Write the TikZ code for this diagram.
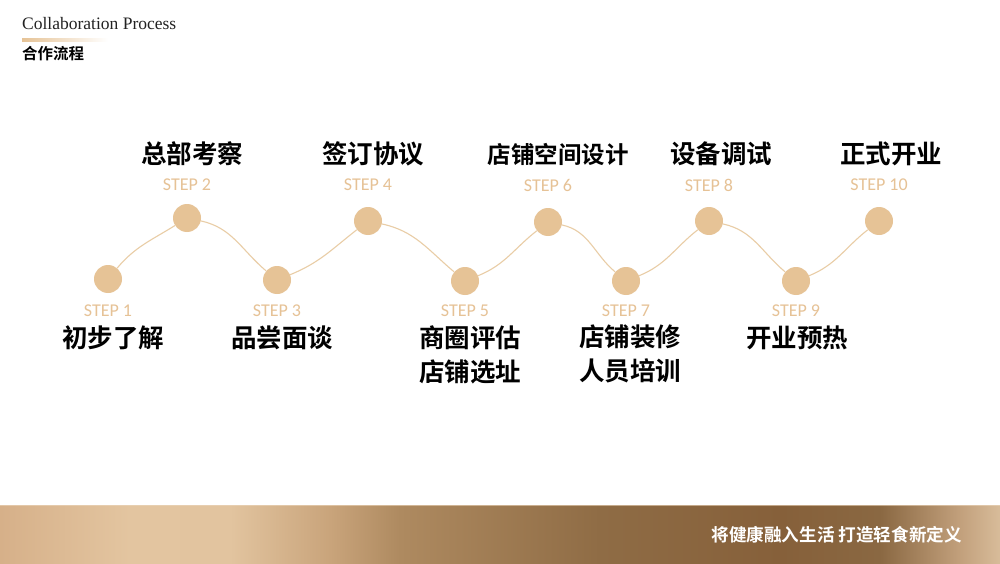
\documentclass[tikz,border=0pt]{standalone}
\usepackage{fontspec}
\setmainfont{Liberation Serif}
\newfontfamily\cjk{Noto Sans CJK SC}[BoldFont={Noto Sans CJK SC Bold}]
\newfontfamily\stepfont{Carlito}
\definecolor{gold}{HTML}{E6C396}
\definecolor{goldline}{HTML}{E9CDA6}
\definecolor{steptxt}{HTML}{E6C296}
\definecolor{headtxt}{HTML}{222222}
\definecolor{b0}{HTML}{D6B089}
\definecolor{b1}{HTML}{E3C5A0}
\definecolor{b2}{HTML}{E2C49F}
\definecolor{b3}{HTML}{C9A47B}
\definecolor{b4}{HTML}{AE8A60}
\definecolor{b5}{HTML}{8F6C45}
\definecolor{b6}{HTML}{86603A}
\definecolor{b7}{HTML}{8A6842}
\definecolor{b8}{HTML}{C2A07C}
\definecolor{b9}{HTML}{D8BC9A}
\pgfdeclarehorizontalshading{bandshade}{100bp}{%
  color(0bp)=(b0); color(25bp)=(b0); color(31.5bp)=(b1); color(36.5bp)=(b2);
  color(41.5bp)=(b3); color(45bp)=(b4); color(55bp)=(b5); color(64bp)=(b6);
  color(69bp)=(b7); color(73bp)=(b8); color(75bp)=(b9); color(100bp)=(b9)}
\begin{document}
\begin{tikzpicture}[x=1pt,y=-1pt,
  dot/.style={circle,fill=gold,minimum size=28pt,inner sep=0pt},
  wave/.style={draw=goldline,line width=1.1pt},
  steplbl/.style={font=\stepfont\fontsize{18}{18}\selectfont,text=steptxt,inner sep=0pt},
  title/.style={font=\cjk\bfseries\fontsize{25.5}{34}\selectfont,text=black,inner sep=0pt,align=center}]
\useasboundingbox (0,0) rectangle (1000,564);
\fill[white] (0,0) rectangle (1000,564);
% header
\node[anchor=base west,inner sep=0pt,text=headtxt,font=\fontsize{17.5}{18}\selectfont] (head) at (22,30) {Collaboration Process};
\shade[left color=gold,right color=white] (22,39) rectangle (108,41.5);
\node[anchor=west,inner sep=0pt,text=black,font=\cjk\bfseries\fontsize{15.5}{16}\selectfont] (headcn) at (22,54) {合作流程};
% band
\shade[shading=bandshade] (0,505) rectangle (1000,564);
\fill[b1!70!white,opacity=0.6] (0,504.5) rectangle (1000,506);
\node[anchor=east,inner sep=0pt,text=white,font=\cjk\bfseries\fontsize{17.6}{18}\selectfont] (slogan) at (962,535) {将健康融入生活 打造轻食新定义};
% dots
\node[dot] (s1) at (108,279) {};
\node[dot] (s2) at (187,218) {};
\node[dot] (s3) at (277,280) {};
\node[dot] (s4) at (368,221) {};
\node[dot] (s5) at (465,281) {};
\node[dot] (s6) at (548,222) {};
\node[dot] (s7) at (626,281) {};
\node[dot] (s8) at (709,221) {};
\node[dot] (s9) at (796,281) {};
\node[dot] (s10) at (879,221) {};
% wave
\path[wave] (s1) to[out=50,in=212] (s2);
\path[wave] (s2) to[out=-12,in=140] (s3);
\path[wave] (s3) to[out=22,in=218] (s4);
\path[wave] (s4) to[out=-12,in=140] (s5);
\path[wave] (s5) to[out=22,in=218] (s6);
\path[wave] (s6) to[out=-12,in=140] (s7);
\path[wave] (s7) to[out=22,in=218] (s8);
\path[wave] (s8) to[out=-12,in=140] (s9);
\path[wave] (s9) to[out=22,in=218] (s10);
% step labels
\node[steplbl] (l1) at (108,311) {STEP 1};
\node[steplbl] (l2) at (187,185) {STEP 2};
\node[steplbl] (l3) at (277,311) {STEP 3};
\node[steplbl] (l4) at (368,185) {STEP 4};
\node[steplbl] (l5) at (465,311) {STEP 5};
\node[steplbl] (l6) at (548,185) {STEP 6};
\node[steplbl] (l7) at (626,311) {STEP 7};
\node[steplbl] (l8) at (709,185) {STEP 8};
\node[steplbl] (l9) at (796,311) {STEP 9};
\node[steplbl] (l10) at (879,185) {STEP 10};
% titles
\node[title] (t1) at (113,337.5) {初步了解};
\node[title] (t2) at (192,154) {总部考察};
\node[title] (t3) at (282,337.5) {品尝面谈};
\node[title] (t4) at (373,154) {签订协议};
\node[title,anchor=north] (t5) at (470,325) {商圈评估\\店铺选址};
\node[title,font=\cjk\bfseries\fontsize{23.5}{34}\selectfont] (t6) at (558,154) {店铺空间设计};
\node[title,anchor=north] (t7) at (630,325) {店铺装修\\人员培训};
\node[title] (t8) at (721,154) {设备调试};
\node[title] (t9) at (797,337.5) {开业预热};
\node[title] (t10) at (891,154) {正式开业};
\end{tikzpicture}
\end{document}
